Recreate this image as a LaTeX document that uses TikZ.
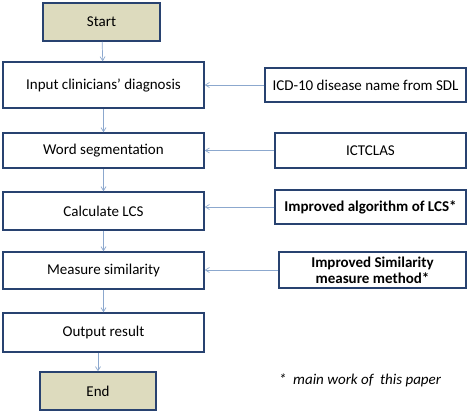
\documentclass[tikz,border=0pt]{standalone}
\usepackage{fontspec}
\setmainfont{Carlito}
\usetikzlibrary{arrows.meta}
\definecolor{boxline}{RGB}{40,66,112}
\definecolor{flowline}{RGB}{140,168,206}
\definecolor{termfill}{RGB}{221,219,190}
\tikzset{
  procbox/.style={draw=boxline,line width=1.5pt,fill=white,minimum width=201pt,
    inner sep=2pt,align=center,font=\fontsize{15}{17}\selectfont},
  termbox/.style={procbox,fill=termfill,minimum width=117pt,minimum height=38pt},
  flow/.style={draw=flowline,line width=0.7pt,-{Straight Barb[length=4pt,width=5pt]}}
}
\begin{document}
\begin{tikzpicture}[x=1pt,y=-1pt]
  \useasboundingbox (0,0) rectangle (474,418);
  % main flow
  \node[termbox] (start) at (101.5,22) {Start};
  \node[procbox,minimum height=46pt] (input) at (103.5,85) {Input clinicians’ diagnosis};
  \node[procbox,minimum height=35pt] (seg) at (103.5,150.5) {Word segmentation};
  \node[procbox,minimum height=38pt] (lcs) at (103.5,211) {Calculate LCS};
  \node[procbox,minimum height=37pt] (sim) at (103.5,270.5) {Measure similarity};
  \node[procbox,minimum height=39pt] (out) at (103.5,332.5) {Output result};
  \node[termbox,minimum width=116pt] (end) at (98,391) {End};
  % side inputs
  \node[procbox,minimum height=34pt] (icd) at (365.5,85) {ICD-10 disease name from SDL};
  \node[procbox,minimum width=191pt,minimum height=35pt] (ict) at (370.5,150.5) {ICTCLAS};
  \node[procbox,minimum width=191pt,minimum height=34pt,font=\fontsize{15}{17}\selectfont\bfseries]
    (alg) at (370.5,207) {Improved algorithm of LCS*};
  \node[procbox,minimum width=187pt,minimum height=36pt,font=\fontsize{15}{16}\selectfont\bfseries]
    (meth) at (372.5,270) {Improved Similarity\\measure method*};
  \node[font=\fontsize{15}{17}\selectfont\itshape] (note) at (360,380) {*\ \ main work of\ \ this paper};
  % connectors
  \draw[flow] (start) -- (input);
  \draw[flow] (input) -- (seg);
  \draw[flow] (seg) -- (lcs);
  \draw[flow] (lcs) -- (sim);
  \draw[flow] (sim) -- (out);
  \draw[flow] (out.south -| end) -- (end);
  \draw[flow] (icd) -- (input);
  \draw[flow] (ict.west) -- (ict.west -| seg.east);
  \draw[flow] (alg.west) -- (alg.west -| lcs.east);
  \draw[flow] (meth.west) -- (meth.west -| sim.east);
\end{tikzpicture}
\end{document}
